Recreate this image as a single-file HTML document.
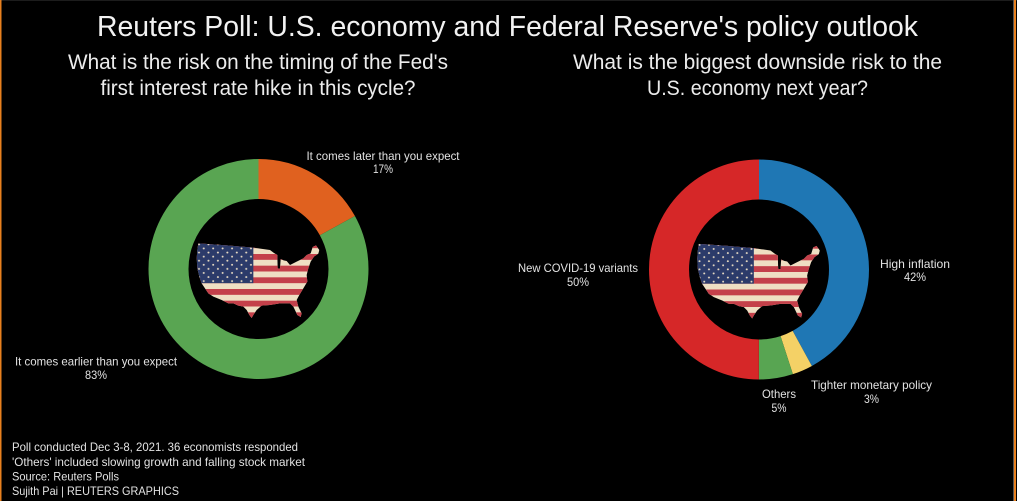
<!DOCTYPE html>
<html>
<head>
<meta charset="utf-8">
<style>
  html,body{margin:0;padding:0;background:#000;}
  svg{display:block;}
  text{font-family:"Liberation Sans", sans-serif;}
</style>
</head>
<body>
<svg width="1017" height="501" viewBox="0 0 1017 501" xmlns="http://www.w3.org/2000/svg">
  <rect x="0" y="0" width="1017" height="501" fill="#000"/>
  <rect x="0" y="0" width="1017" height="1" fill="#1c1c1c"/>
  <rect x="0" y="0" width="1.5" height="501" fill="#e8801e"/>
  <rect x="1013" y="0" width="1" height="501" fill="#555"/>
  <rect x="1014" y="0" width="2" height="501" fill="#e8801e"/>

  <defs>
    <clipPath id="us">
      <path d="M25,25 L110,31 L190,38 L240,45 L252,54 L262,60 L263,100 L270,101 L272,72 L281,76 L290,78 L300,90 L320,80 L340,70 L350,60 L362,55 L368,36 L378,31 L388,45 L385,56 L372,65 L362,80 L355,100 L350,120 L352,140 L340,160 L328,180 L320,195 L325,215 L335,235 L332,246 L322,240 L310,215 L300,205 L270,205 L240,210 L215,212 L200,225 L190,240 L185,249 L178,240 L170,225 L160,215 L145,212 L130,205 L115,205 L95,195 L70,185 L55,175 L45,160 L35,145 L28,125 L22,100 L20,70 L22,45 Z"/>
    </clipPath>
    <pattern id="stars" patternUnits="userSpaceOnUse" x="20" y="22" width="28.33" height="24.5">
      <rect x="0" y="0" width="28.33" height="24.5" fill="#2c3b6a"/>
      <circle cx="7.08" cy="6.1" r="3" fill="#e9dcc4"/>
      <circle cx="21.25" cy="18.4" r="3" fill="#e9dcc4"/>
    </pattern>
  </defs>

  <!-- LEFT DONUT -->
  <g transform="rotate(-90 258.5 269)" fill="none" stroke-width="40">
    <circle cx="258.5" cy="269" r="90" stroke="#e0611f" stroke-dasharray="96.13 565.49" stroke-dashoffset="0"/>
    <circle cx="258.5" cy="269" r="90" stroke="#59a552" stroke-dasharray="469.36 565.49" stroke-dashoffset="-96.13"/>
  </g>

  <!-- RIGHT DONUT -->
  <g transform="rotate(-90 759 269.5)" fill="none" stroke-width="40">
    <circle cx="759" cy="269.5" r="90" stroke="#1f77b4" stroke-dasharray="237.50 565.49" stroke-dashoffset="0"/>
    <circle cx="759" cy="269.5" r="90" stroke="#f4d166" stroke-dasharray="16.96 565.49" stroke-dashoffset="-237.50"/>
    <circle cx="759" cy="269.5" r="90" stroke="#58a552" stroke-dasharray="28.27 565.49" stroke-dashoffset="-254.46"/>
    <circle cx="759" cy="269.5" r="90" stroke="#d62728" stroke-dasharray="282.75 565.49" stroke-dashoffset="-282.74"/>
  </g>

  <!-- LEFT MAP -->
  <g transform="translate(190,235) scale(0.33333)">
    <g clip-path="url(#us)">
      <rect x="0" y="0" width="400" height="260" fill="#efdfc3"/>
      <rect x="0" y="22" width="400" height="17.5" fill="#c4404a"/>
      <rect x="0" y="57" width="400" height="17.5" fill="#c4404a"/>
      <rect x="0" y="92" width="400" height="17.5" fill="#c4404a"/>
      <rect x="0" y="127" width="400" height="17.5" fill="#c4404a"/>
      <rect x="0" y="162" width="400" height="17.5" fill="#c4404a"/>
      <rect x="0" y="197" width="400" height="17.5" fill="#c4404a"/>
      <rect x="0" y="232" width="400" height="28" fill="#c4404a"/>
      <rect x="0" y="0" width="190" height="144.5" fill="url(#stars)"/>
    </g>
  </g>

  <!-- RIGHT MAP -->
  <g transform="translate(690.5,235.5) scale(0.33333)">
    <g clip-path="url(#us)">
      <rect x="0" y="0" width="400" height="260" fill="#efdfc3"/>
      <rect x="0" y="22" width="400" height="17.5" fill="#c4404a"/>
      <rect x="0" y="57" width="400" height="17.5" fill="#c4404a"/>
      <rect x="0" y="92" width="400" height="17.5" fill="#c4404a"/>
      <rect x="0" y="127" width="400" height="17.5" fill="#c4404a"/>
      <rect x="0" y="162" width="400" height="17.5" fill="#c4404a"/>
      <rect x="0" y="197" width="400" height="17.5" fill="#c4404a"/>
      <rect x="0" y="232" width="400" height="28" fill="#c4404a"/>
      <rect x="0" y="0" width="190" height="144.5" fill="url(#stars)"/>
    </g>
  </g>

  <!-- TITLES -->
  <text x="507.5" y="36" font-size="29" fill="#f2f2f2" text-anchor="middle" textLength="821" lengthAdjust="spacingAndGlyphs">Reuters Poll: U.S. economy and Federal Reserve's policy outlook</text>

  <text x="258" y="69" font-size="21.5" fill="#ececec" text-anchor="middle" textLength="380" lengthAdjust="spacingAndGlyphs">What is the risk on the timing of the Fed's</text>
  <text x="258" y="95" font-size="21.5" fill="#ececec" text-anchor="middle" textLength="315" lengthAdjust="spacingAndGlyphs">first interest rate hike in this cycle?</text>

  <text x="757.5" y="69" font-size="21.5" fill="#ececec" text-anchor="middle" textLength="369" lengthAdjust="spacingAndGlyphs">What is the biggest downside risk to the</text>
  <text x="757.5" y="95" font-size="21.5" fill="#ececec" text-anchor="middle" textLength="221" lengthAdjust="spacingAndGlyphs">U.S. economy next year?</text>

  <!-- LABELS -->
  <g font-size="12" fill="#e2e2e2" text-anchor="middle">
    <text x="383" y="160" textLength="153" lengthAdjust="spacingAndGlyphs">It comes later than you expect</text>
    <text x="383" y="173" textLength="20" lengthAdjust="spacingAndGlyphs">17%</text>

    <text x="96" y="365.5" textLength="162" lengthAdjust="spacingAndGlyphs">It comes earlier than you expect</text>
    <text x="96" y="379" textLength="22" lengthAdjust="spacingAndGlyphs">83%</text>

    <text x="578" y="272" textLength="120" lengthAdjust="spacingAndGlyphs">New COVID-19 variants</text>
    <text x="578" y="286" textLength="22" lengthAdjust="spacingAndGlyphs">50%</text>

    <text x="915" y="268" textLength="70" lengthAdjust="spacingAndGlyphs">High inflation</text>
    <text x="915" y="281" textLength="22" lengthAdjust="spacingAndGlyphs">42%</text>

    <text x="779" y="398" textLength="34" lengthAdjust="spacingAndGlyphs">Others</text>
    <text x="779" y="412" textLength="15" lengthAdjust="spacingAndGlyphs">5%</text>

    <text x="871.5" y="389" textLength="121" lengthAdjust="spacingAndGlyphs">Tighter monetary policy</text>
    <text x="871.5" y="403" textLength="15" lengthAdjust="spacingAndGlyphs">3%</text>
  </g>

  <!-- FOOTNOTE -->
  <g font-size="12" fill="#e2e2e2">
    <text x="12" y="451" textLength="286" lengthAdjust="spacingAndGlyphs">Poll conducted Dec 3-8, 2021. 36 economists responded</text>
    <text x="12" y="466" textLength="293" lengthAdjust="spacingAndGlyphs">'Others' included slowing growth and falling stock market</text>
    <text x="12" y="480.5" textLength="107" lengthAdjust="spacingAndGlyphs">Source: Reuters Polls</text>
    <text x="12" y="495" textLength="167" lengthAdjust="spacingAndGlyphs">Sujith Pai | REUTERS GRAPHICS</text>
  </g>
</svg>
</body>
</html>
